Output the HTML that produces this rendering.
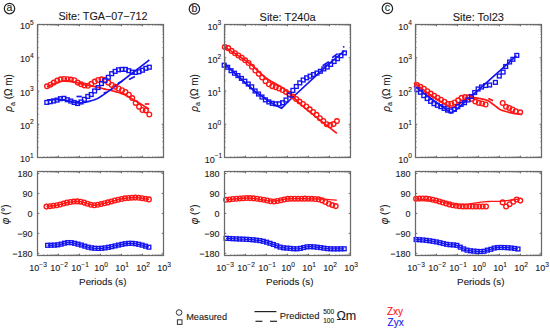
<!DOCTYPE html>
<html><head><meta charset="utf-8"><style>
html,body{margin:0;padding:0;background:#fff;}
svg{display:block;}
text{font-family:"Liberation Sans",sans-serif;}
</style></head><body>
<svg width="550" height="331" viewBox="0 0 550 331">
<rect width="550" height="331" fill="#fff"/>
<path d="M47.00,87.00 L47.77,86.63 L48.80,86.13 L50.02,85.52 L51.38,84.86 L52.81,84.18 L54.27,83.53 L55.68,82.96 L57.00,82.50 L58.24,82.13 L59.48,81.79 L60.71,81.49 L61.94,81.23 L63.18,81.03 L64.43,80.89 L65.70,80.81 L67.00,80.80 L68.38,80.90 L69.84,81.10 L71.36,81.39 L72.88,81.72 L74.34,82.08 L75.72,82.44 L76.95,82.75 L78.00,83.00 L78.78,83.18 L79.32,83.32 L79.68,83.44 L79.97,83.54 L80.26,83.65 L80.64,83.77 L81.19,83.91 L82.00,84.10 L83.08,84.33 L84.35,84.58 L85.76,84.86 L87.28,85.15 L88.86,85.46 L90.45,85.77 L92.01,86.09 L93.50,86.40 L94.97,86.73 L96.48,87.08 L98.01,87.44 L99.53,87.80 L101.02,88.16 L102.44,88.50 L103.78,88.82 L105.00,89.10 L106.06,89.33 L106.95,89.50 L107.73,89.64 L108.47,89.77 L109.21,89.91 L110.00,90.08 L110.92,90.31 L112.00,90.60 L113.27,90.96 L114.70,91.37 L116.22,91.82 L117.81,92.30 L119.43,92.81 L121.02,93.36 L122.56,93.92 L124.00,94.50 L125.31,95.09 L126.53,95.68 L127.68,96.29 L128.82,96.93 L129.98,97.61 L131.20,98.34 L132.53,99.13 L134.00,100.00 L135.73,101.02 L137.73,102.21 L139.88,103.51 L142.07,104.84 L144.19,106.13 L146.11,107.30 L147.72,108.28 L148.90,109.00" fill="none" stroke="#ff1414" stroke-width="1.7" stroke-linejoin="round"/>
<path d="M47.00,100.00 L47.77,99.95 L48.80,99.88 L50.02,99.78 L51.38,99.69 L52.81,99.60 L54.27,99.53 L55.68,99.49 L57.00,99.50 L58.25,99.54 L59.50,99.61 L60.75,99.71 L62.00,99.83 L63.25,99.96 L64.50,100.12 L65.75,100.30 L67.00,100.50 L68.27,100.74 L69.57,101.04 L70.88,101.38 L72.19,101.73 L73.47,102.07 L74.71,102.38 L75.89,102.63 L77.00,102.80 L78.01,102.90 L78.94,102.95 L79.80,102.95 L80.62,102.92 L81.43,102.85 L82.25,102.76 L83.10,102.64 L84.00,102.50 L84.96,102.34 L85.95,102.14 L86.96,101.92 L87.99,101.67 L89.01,101.40 L90.03,101.11 L91.03,100.81 L92.00,100.50 L92.90,100.21 L93.73,99.96 L94.51,99.70 L95.30,99.42 L96.12,99.09 L97.03,98.68 L98.04,98.16 L99.20,97.50 L100.49,96.72 L101.87,95.84 L103.33,94.87 L104.89,93.81 L106.53,92.66 L108.26,91.42 L110.08,90.10 L112.00,88.70 L114.05,87.18 L116.24,85.51 L118.55,83.74 L120.93,81.90 L123.36,80.01 L125.81,78.11 L128.23,76.23 L130.60,74.40 L133.06,72.51 L135.71,70.47 L138.43,68.37 L141.11,66.31 L143.65,64.35 L145.94,62.59 L147.86,61.11 L149.30,60.00" fill="none" stroke="#1414f0" stroke-width="1.7" stroke-linejoin="round"/>
<g fill="none" stroke="#ff1414" stroke-width="1.35"><circle cx="47.00" cy="86.30" r="2.35"/><circle cx="50.41" cy="84.69" r="2.35"/><circle cx="53.82" cy="82.61" r="2.35"/><circle cx="57.23" cy="80.64" r="2.35"/><circle cx="60.64" cy="79.37" r="2.35"/><circle cx="64.05" cy="78.98" r="2.35"/><circle cx="67.46" cy="79.25" r="2.35"/><circle cx="70.87" cy="79.57" r="2.35"/><circle cx="74.28" cy="80.29" r="2.35"/><circle cx="77.69" cy="82.61" r="2.35"/><circle cx="81.10" cy="84.30" r="2.35"/><circle cx="84.51" cy="85.42" r="2.35"/><circle cx="87.92" cy="85.75" r="2.35"/><circle cx="91.33" cy="83.83" r="2.35"/><circle cx="94.74" cy="81.57" r="2.35"/><circle cx="98.15" cy="79.96" r="2.35"/><circle cx="101.56" cy="79.35" r="2.35"/><circle cx="104.97" cy="79.77" r="2.35"/><circle cx="108.38" cy="82.64" r="2.35"/><circle cx="111.79" cy="84.94" r="2.35"/><circle cx="115.20" cy="86.71" r="2.35"/><circle cx="118.61" cy="88.46" r="2.35"/><circle cx="122.02" cy="90.15" r="2.35"/><circle cx="125.43" cy="91.92" r="2.35"/><circle cx="128.84" cy="94.65" r="2.35"/><circle cx="132.25" cy="98.07" r="2.35"/><circle cx="135.66" cy="102.90" r="2.35"/><circle cx="139.07" cy="106.67" r="2.35"/><circle cx="142.48" cy="110.02" r="2.35"/><circle cx="145.89" cy="110.43" r="2.35"/><circle cx="149.30" cy="114.50" r="2.35"/></g>
<g fill="none" stroke="#1414f0" stroke-width="1.35"><rect x="44.90" y="100.50" width="3.8" height="3.8"/><rect x="48.32" y="99.80" width="3.8" height="3.8"/><rect x="51.73" y="99.09" width="3.8" height="3.8"/><rect x="55.15" y="98.18" width="3.8" height="3.8"/><rect x="58.57" y="96.78" width="3.8" height="3.8"/><rect x="61.98" y="96.41" width="3.8" height="3.8"/><rect x="65.40" y="97.84" width="3.8" height="3.8"/><rect x="68.82" y="99.15" width="3.8" height="3.8"/><rect x="72.23" y="100.55" width="3.8" height="3.8"/><rect x="75.65" y="101.59" width="3.8" height="3.8"/><rect x="79.07" y="100.12" width="3.8" height="3.8"/><rect x="82.48" y="97.44" width="3.8" height="3.8"/><rect x="85.90" y="94.54" width="3.8" height="3.8"/><rect x="89.32" y="92.62" width="3.8" height="3.8"/><rect x="92.73" y="89.06" width="3.8" height="3.8"/><rect x="96.15" y="85.69" width="3.8" height="3.8"/><rect x="99.57" y="81.69" width="3.8" height="3.8"/><rect x="102.98" y="78.80" width="3.8" height="3.8"/><rect x="106.40" y="75.42" width="3.8" height="3.8"/><rect x="109.82" y="71.79" width="3.8" height="3.8"/><rect x="113.23" y="69.49" width="3.8" height="3.8"/><rect x="116.65" y="67.90" width="3.8" height="3.8"/><rect x="120.07" y="67.49" width="3.8" height="3.8"/><rect x="123.48" y="67.50" width="3.8" height="3.8"/><rect x="126.90" y="68.82" width="3.8" height="3.8"/><rect x="130.32" y="70.29" width="3.8" height="3.8"/><rect x="133.73" y="70.56" width="3.8" height="3.8"/><rect x="137.15" y="69.85" width="3.8" height="3.8"/><rect x="140.57" y="68.33" width="3.8" height="3.8"/><rect x="143.98" y="66.44" width="3.8" height="3.8"/><rect x="147.40" y="65.30" width="3.8" height="3.8"/></g>
<line x1="76.5" y1="96.5" x2="81.8" y2="96.5" stroke="#1414f0" stroke-width="1.7"/>
<line x1="129" y1="79.5" x2="134.9" y2="76.6" stroke="#1414f0" stroke-width="1.7"/>
<line x1="118.2" y1="83.2" x2="122.5" y2="81" stroke="#1414f0" stroke-width="1.7"/>
<line x1="103.7" y1="93.3" x2="106.6" y2="91.9" stroke="#1414f0" stroke-width="1.7"/>
<line x1="144.8" y1="104" x2="149.3" y2="104" stroke="#ff1414" stroke-width="1.7"/>
<path d="M46.50,206.60 L47.40,206.48 L48.61,206.34 L50.04,206.17 L51.64,205.97 L53.31,205.75 L55.00,205.51 L56.62,205.26 L58.10,205.00 L59.47,204.70 L60.82,204.36 L62.15,203.98 L63.46,203.60 L64.77,203.22 L66.07,202.87 L67.38,202.55 L68.70,202.30 L70.03,202.08 L71.35,201.88 L72.67,201.69 L74.00,201.54 L75.33,201.44 L76.65,201.39 L77.97,201.41 L79.30,201.50 L80.66,201.71 L82.08,202.04 L83.52,202.45 L84.94,202.91 L86.33,203.38 L87.64,203.82 L88.84,204.21 L89.90,204.50 L90.76,204.72 L91.43,204.90 L91.97,205.06 L92.45,205.18 L92.93,205.25 L93.47,205.28 L94.14,205.27 L95.00,205.20 L96.06,205.07 L97.27,204.87 L98.58,204.61 L99.96,204.32 L101.39,204.00 L102.83,203.66 L104.24,203.32 L105.60,203.00 L106.92,202.67 L108.23,202.33 L109.54,201.96 L110.85,201.59 L112.16,201.23 L113.47,200.86 L114.78,200.52 L116.10,200.20 L117.42,199.89 L118.74,199.59 L120.07,199.29 L121.39,199.00 L122.72,198.73 L124.05,198.49 L125.37,198.28 L126.70,198.10 L128.02,197.95 L129.33,197.83 L130.63,197.73 L131.94,197.66 L133.25,197.62 L134.58,197.61 L135.93,197.64 L137.30,197.70 L138.78,197.82 L140.40,198.02 L142.09,198.26 L143.76,198.52 L145.36,198.79 L146.79,199.05 L148.00,199.25 L148.90,199.40" fill="none" stroke="#ff1414" stroke-width="1.3" stroke-linejoin="round"/>
<path d="M47.60,245.30 L48.41,245.27 L49.48,245.25 L50.76,245.23 L52.19,245.19 L53.69,245.14 L55.22,245.06 L56.71,244.95 L58.10,244.80 L59.42,244.57 L60.74,244.25 L62.07,243.88 L63.39,243.49 L64.72,243.13 L66.05,242.81 L67.37,242.59 L68.70,242.50 L70.02,242.54 L71.35,242.67 L72.67,242.89 L73.99,243.16 L75.32,243.48 L76.64,243.82 L77.97,244.17 L79.30,244.50 L80.64,244.85 L81.98,245.25 L83.34,245.68 L84.69,246.12 L86.03,246.56 L87.37,246.96 L88.70,247.32 L90.00,247.60 L91.28,247.83 L92.55,248.01 L93.80,248.17 L95.04,248.28 L96.28,248.36 L97.52,248.41 L98.75,248.42 L100.00,248.40 L101.20,248.34 L102.34,248.25 L103.46,248.13 L104.58,247.97 L105.76,247.78 L107.03,247.55 L108.43,247.29 L110.00,247.00 L111.81,246.64 L113.85,246.18 L116.04,245.67 L118.31,245.13 L120.59,244.61 L122.80,244.14 L124.86,243.76 L126.70,243.50 L128.31,243.35 L129.76,243.28 L131.08,243.28 L132.32,243.33 L133.52,243.44 L134.72,243.59 L135.97,243.78 L137.30,244.00 L138.78,244.29 L140.40,244.69 L142.09,245.14 L143.76,245.63 L145.36,246.12 L146.79,246.56 L148.00,246.93 L148.90,247.20" fill="none" stroke="#1414f0" stroke-width="1.3" stroke-linejoin="round"/>
<g fill="none" stroke="#ff1414" stroke-width="1.35"><circle cx="46.50" cy="206.60" r="2.35"/><circle cx="49.91" cy="206.18" r="2.35"/><circle cx="53.33" cy="205.75" r="2.35"/><circle cx="56.74" cy="205.24" r="2.35"/><circle cx="60.15" cy="204.53" r="2.35"/><circle cx="63.57" cy="203.57" r="2.35"/><circle cx="66.98" cy="202.65" r="2.35"/><circle cx="70.39" cy="202.02" r="2.35"/><circle cx="73.81" cy="201.56" r="2.35"/><circle cx="77.22" cy="201.39" r="2.35"/><circle cx="80.63" cy="201.70" r="2.35"/><circle cx="84.05" cy="202.61" r="2.35"/><circle cx="87.46" cy="203.76" r="2.35"/><circle cx="90.87" cy="204.75" r="2.35"/><circle cx="94.29" cy="205.26" r="2.35"/><circle cx="97.70" cy="204.79" r="2.35"/><circle cx="101.11" cy="204.06" r="2.35"/><circle cx="104.53" cy="203.26" r="2.35"/><circle cx="107.94" cy="202.40" r="2.35"/><circle cx="111.35" cy="201.45" r="2.35"/><circle cx="114.77" cy="200.52" r="2.35"/><circle cx="118.18" cy="199.72" r="2.35"/><circle cx="121.59" cy="198.96" r="2.35"/><circle cx="125.01" cy="198.33" r="2.35"/><circle cx="128.42" cy="197.91" r="2.35"/><circle cx="131.83" cy="197.67" r="2.35"/><circle cx="135.25" cy="197.62" r="2.35"/><circle cx="138.66" cy="197.81" r="2.35"/><circle cx="142.07" cy="198.26" r="2.35"/><circle cx="145.49" cy="198.82" r="2.35"/><circle cx="148.90" cy="199.40" r="2.35"/></g>
<g fill="none" stroke="#1414f0" stroke-width="1.35"><rect x="45.70" y="243.40" width="3.8" height="3.8"/><rect x="49.08" y="243.32" width="3.8" height="3.8"/><rect x="52.45" y="243.21" width="3.8" height="3.8"/><rect x="55.83" y="242.94" width="3.8" height="3.8"/><rect x="59.21" y="242.25" width="3.8" height="3.8"/><rect x="62.58" y="241.29" width="3.8" height="3.8"/><rect x="65.96" y="240.65" width="3.8" height="3.8"/><rect x="69.34" y="240.76" width="3.8" height="3.8"/><rect x="72.71" y="241.41" width="3.8" height="3.8"/><rect x="76.09" y="242.27" width="3.8" height="3.8"/><rect x="79.47" y="243.16" width="3.8" height="3.8"/><rect x="82.84" y="244.24" width="3.8" height="3.8"/><rect x="86.22" y="245.27" width="3.8" height="3.8"/><rect x="89.60" y="245.96" width="3.8" height="3.8"/><rect x="92.97" y="246.37" width="3.8" height="3.8"/><rect x="96.35" y="246.52" width="3.8" height="3.8"/><rect x="99.73" y="246.41" width="3.8" height="3.8"/><rect x="103.10" y="246.00" width="3.8" height="3.8"/><rect x="106.48" y="245.40" width="3.8" height="3.8"/><rect x="109.86" y="244.75" width="3.8" height="3.8"/><rect x="113.23" y="243.98" width="3.8" height="3.8"/><rect x="116.61" y="243.19" width="3.8" height="3.8"/><rect x="119.99" y="242.43" width="3.8" height="3.8"/><rect x="123.36" y="241.80" width="3.8" height="3.8"/><rect x="126.74" y="241.43" width="3.8" height="3.8"/><rect x="130.12" y="241.41" width="3.8" height="3.8"/><rect x="133.49" y="241.79" width="3.8" height="3.8"/><rect x="136.87" y="242.39" width="3.8" height="3.8"/><rect x="140.25" y="243.26" width="3.8" height="3.8"/><rect x="143.62" y="244.27" width="3.8" height="3.8"/><rect x="147.00" y="245.30" width="3.8" height="3.8"/></g>
<path d="M224.80,47.00 L226.72,48.24 L229.32,49.90 L232.42,51.87 L235.84,54.06 L239.39,56.37 L242.89,58.70 L246.15,60.94 L249.00,63.00 L251.46,64.95 L253.71,66.90 L255.81,68.85 L257.82,70.77 L259.79,72.67 L261.78,74.51 L263.83,76.29 L266.00,78.00 L268.27,79.57 L270.59,80.98 L272.93,82.30 L275.31,83.59 L277.71,84.90 L280.13,86.30 L282.56,87.85 L285.00,89.60 L287.37,91.53 L289.65,93.56 L291.90,95.70 L294.19,97.94 L296.58,100.30 L299.14,102.76 L301.92,105.32 L305.00,108.00 L308.64,111.01 L312.89,114.43 L317.49,118.09 L322.20,121.80 L326.75,125.36 L330.89,128.59 L334.36,131.30 L336.90,133.30" fill="none" stroke="#ff1414" stroke-width="1.7" stroke-linejoin="round"/>
<path d="M224.50,64.00 L240.00,78.00 L255.00,91.50 L270.00,102.00 L276.00,105.50 L281.50,108.30 L289.80,100.00 L325.00,67.30 L344.40,50.90" fill="none" stroke="#1414f0" stroke-width="1.7" stroke-linejoin="round"/>
<g fill="none" stroke="#ff1414" stroke-width="1.35"><circle cx="224.80" cy="47.10" r="2.35"/><circle cx="228.20" cy="48.14" r="2.35"/><circle cx="231.59" cy="50.89" r="2.35"/><circle cx="234.99" cy="53.24" r="2.35"/><circle cx="238.39" cy="55.49" r="2.35"/><circle cx="241.78" cy="57.75" r="2.35"/><circle cx="245.18" cy="60.33" r="2.35"/><circle cx="248.58" cy="62.99" r="2.35"/><circle cx="251.98" cy="66.72" r="2.35"/><circle cx="255.37" cy="70.50" r="2.35"/><circle cx="258.77" cy="73.86" r="2.35"/><circle cx="262.17" cy="77.50" r="2.35"/><circle cx="265.56" cy="81.14" r="2.35"/><circle cx="268.96" cy="84.21" r="2.35"/><circle cx="272.36" cy="86.13" r="2.35"/><circle cx="275.75" cy="87.29" r="2.35"/><circle cx="279.15" cy="88.49" r="2.35"/><circle cx="282.55" cy="90.04" r="2.35"/><circle cx="285.95" cy="91.93" r="2.35"/><circle cx="289.34" cy="94.06" r="2.35"/><circle cx="292.74" cy="96.48" r="2.35"/><circle cx="296.14" cy="99.03" r="2.35"/><circle cx="299.53" cy="101.58" r="2.35"/><circle cx="302.93" cy="103.94" r="2.35"/><circle cx="306.33" cy="106.48" r="2.35"/><circle cx="309.72" cy="109.30" r="2.35"/><circle cx="313.12" cy="112.00" r="2.35"/><circle cx="316.52" cy="114.89" r="2.35"/><circle cx="319.92" cy="118.22" r="2.35"/><circle cx="323.31" cy="121.00" r="2.35"/><circle cx="326.71" cy="124.18" r="2.35"/><circle cx="330.11" cy="125.14" r="2.35"/><circle cx="333.50" cy="124.11" r="2.35"/><circle cx="336.90" cy="121.10" r="2.35"/></g>
<g fill="none" stroke="#1414f0" stroke-width="1.35"><rect x="222.30" y="63.30" width="3.8" height="3.8"/><rect x="225.73" y="65.38" width="3.8" height="3.8"/><rect x="229.17" y="68.79" width="3.8" height="3.8"/><rect x="232.60" y="71.35" width="3.8" height="3.8"/><rect x="236.04" y="73.71" width="3.8" height="3.8"/><rect x="239.47" y="76.51" width="3.8" height="3.8"/><rect x="242.91" y="79.30" width="3.8" height="3.8"/><rect x="246.34" y="82.12" width="3.8" height="3.8"/><rect x="249.77" y="84.90" width="3.8" height="3.8"/><rect x="253.21" y="89.11" width="3.8" height="3.8"/><rect x="256.64" y="92.13" width="3.8" height="3.8"/><rect x="260.08" y="95.11" width="3.8" height="3.8"/><rect x="263.51" y="97.95" width="3.8" height="3.8"/><rect x="266.95" y="100.03" width="3.8" height="3.8"/><rect x="270.38" y="101.44" width="3.8" height="3.8"/><rect x="273.81" y="102.04" width="3.8" height="3.8"/><rect x="277.25" y="101.98" width="3.8" height="3.8"/><rect x="280.68" y="100.83" width="3.8" height="3.8"/><rect x="284.12" y="98.09" width="3.8" height="3.8"/><rect x="287.55" y="93.09" width="3.8" height="3.8"/><rect x="290.99" y="88.47" width="3.8" height="3.8"/><rect x="294.42" y="84.56" width="3.8" height="3.8"/><rect x="297.85" y="80.96" width="3.8" height="3.8"/><rect x="301.29" y="78.09" width="3.8" height="3.8"/><rect x="304.72" y="75.90" width="3.8" height="3.8"/><rect x="308.16" y="74.26" width="3.8" height="3.8"/><rect x="311.59" y="72.64" width="3.8" height="3.8"/><rect x="315.03" y="71.16" width="3.8" height="3.8"/><rect x="318.46" y="69.38" width="3.8" height="3.8"/><rect x="321.89" y="67.02" width="3.8" height="3.8"/><rect x="325.33" y="65.15" width="3.8" height="3.8"/><rect x="328.76" y="62.53" width="3.8" height="3.8"/><rect x="332.20" y="59.63" width="3.8" height="3.8"/><rect x="335.63" y="56.76" width="3.8" height="3.8"/><rect x="339.07" y="53.84" width="3.8" height="3.8"/><rect x="342.50" y="51.00" width="3.8" height="3.8"/></g>
<line x1="322.7" y1="65.8" x2="328.8" y2="61.7" stroke="#1414f0" stroke-width="1.7"/>
<line x1="332.2" y1="57.7" x2="337.6" y2="53.6" stroke="#1414f0" stroke-width="1.7"/>
<circle cx="343.7" cy="46.8" r="0.9" fill="#1414f0"/>
<path d="M226.10,199.80 L227.90,199.64 L230.29,199.39 L233.14,199.08 L236.30,198.77 L239.65,198.48 L243.04,198.24 L246.33,198.10 L249.40,198.10 L252.35,198.28 L255.38,198.62 L258.43,199.07 L261.46,199.58 L264.44,200.08 L267.32,200.53 L270.05,200.85 L272.60,201.00 L274.84,200.95 L276.75,200.75 L278.46,200.44 L280.11,200.07 L281.80,199.67 L283.68,199.30 L285.87,199.00 L288.50,198.80 L291.68,198.70 L295.35,198.66 L299.35,198.66 L303.52,198.69 L307.71,198.75 L311.75,198.82 L315.50,198.91 L318.80,199.00 L321.76,199.11 L324.59,199.26 L327.24,199.43 L329.69,199.61 L331.91,199.79 L333.85,199.96 L335.50,200.10 L336.80,200.20" fill="none" stroke="#ff1414" stroke-width="1.3" stroke-linejoin="round"/>
<path d="M226.10,238.30 L226.90,238.35 L227.96,238.41 L229.21,238.48 L230.61,238.56 L232.11,238.65 L233.65,238.74 L235.20,238.82 L236.70,238.90 L238.19,238.97 L239.73,239.03 L241.31,239.09 L242.92,239.14 L244.55,239.21 L246.18,239.29 L247.80,239.38 L249.40,239.50 L250.99,239.63 L252.60,239.77 L254.22,239.92 L255.83,240.09 L257.43,240.27 L258.99,240.48 L260.52,240.72 L262.00,241.00 L263.44,241.32 L264.84,241.68 L266.21,242.08 L267.56,242.49 L268.87,242.93 L270.14,243.36 L271.39,243.79 L272.60,244.20 L273.77,244.62 L274.90,245.06 L275.99,245.51 L277.05,245.95 L278.09,246.38 L279.10,246.77 L280.10,247.11 L281.10,247.40 L282.07,247.62 L282.99,247.77 L283.88,247.88 L284.76,247.96 L285.64,248.02 L286.55,248.07 L287.50,248.13 L288.50,248.20 L289.55,248.30 L290.64,248.43 L291.76,248.56 L292.90,248.68 L294.07,248.78 L295.26,248.84 L296.47,248.86 L297.70,248.80 L298.96,248.65 L300.25,248.40 L301.58,248.09 L302.92,247.74 L304.27,247.40 L305.62,247.09 L306.97,246.85 L308.30,246.70 L309.62,246.65 L310.93,246.66 L312.24,246.73 L313.55,246.83 L314.86,246.96 L316.17,247.11 L317.48,247.26 L318.80,247.40 L320.09,247.55 L321.34,247.73 L322.58,247.94 L323.83,248.14 L325.11,248.35 L326.45,248.53 L327.87,248.69 L329.40,248.80 L331.15,248.87 L333.15,248.90 L335.29,248.90 L337.46,248.89 L339.55,248.86 L341.44,248.83 L343.03,248.81 L344.20,248.80" fill="none" stroke="#1414f0" stroke-width="1.3" stroke-linejoin="round"/>
<g fill="none" stroke="#ff1414" stroke-width="1.35"><circle cx="226.10" cy="199.80" r="2.35"/><circle cx="229.53" cy="199.41" r="2.35"/><circle cx="232.95" cy="199.04" r="2.35"/><circle cx="236.38" cy="198.73" r="2.35"/><circle cx="239.80" cy="198.47" r="2.35"/><circle cx="243.22" cy="198.23" r="2.35"/><circle cx="246.65" cy="198.09" r="2.35"/><circle cx="250.07" cy="198.12" r="2.35"/><circle cx="253.50" cy="198.35" r="2.35"/><circle cx="256.93" cy="198.71" r="2.35"/><circle cx="260.35" cy="199.16" r="2.35"/><circle cx="263.77" cy="199.72" r="2.35"/><circle cx="267.20" cy="200.52" r="2.35"/><circle cx="270.62" cy="201.28" r="2.35"/><circle cx="274.05" cy="201.48" r="2.35"/><circle cx="277.48" cy="200.98" r="2.35"/><circle cx="280.90" cy="200.24" r="2.35"/><circle cx="284.32" cy="199.52" r="2.35"/><circle cx="287.75" cy="198.88" r="2.35"/><circle cx="291.18" cy="198.67" r="2.35"/><circle cx="294.60" cy="198.68" r="2.35"/><circle cx="298.02" cy="198.70" r="2.35"/><circle cx="301.45" cy="198.66" r="2.35"/><circle cx="304.88" cy="198.64" r="2.35"/><circle cx="308.30" cy="198.70" r="2.35"/><circle cx="311.73" cy="198.81" r="2.35"/><circle cx="315.15" cy="198.97" r="2.35"/><circle cx="318.57" cy="199.36" r="2.35"/><circle cx="322.00" cy="200.39" r="2.35"/><circle cx="325.42" cy="202.00" r="2.35"/><circle cx="328.85" cy="203.74" r="2.35"/><circle cx="332.27" cy="205.12" r="2.35"/><circle cx="335.70" cy="206.10" r="2.35"/></g>
<g fill="none" stroke="#1414f0" stroke-width="1.35"><rect x="224.20" y="236.40" width="3.8" height="3.8"/><rect x="227.57" y="236.60" width="3.8" height="3.8"/><rect x="230.95" y="236.79" width="3.8" height="3.8"/><rect x="234.32" y="236.98" width="3.8" height="3.8"/><rect x="237.70" y="237.12" width="3.8" height="3.8"/><rect x="241.07" y="237.25" width="3.8" height="3.8"/><rect x="244.45" y="237.40" width="3.8" height="3.8"/><rect x="247.82" y="237.63" width="3.8" height="3.8"/><rect x="251.19" y="237.92" width="3.8" height="3.8"/><rect x="254.57" y="238.26" width="3.8" height="3.8"/><rect x="257.94" y="238.71" width="3.8" height="3.8"/><rect x="261.32" y="239.37" width="3.8" height="3.8"/><rect x="264.69" y="240.29" width="3.8" height="3.8"/><rect x="268.07" y="241.40" width="3.8" height="3.8"/><rect x="271.44" y="242.56" width="3.8" height="3.8"/><rect x="274.81" y="243.91" width="3.8" height="3.8"/><rect x="278.19" y="245.21" width="3.8" height="3.8"/><rect x="281.56" y="245.94" width="3.8" height="3.8"/><rect x="284.94" y="246.19" width="3.8" height="3.8"/><rect x="288.31" y="246.48" width="3.8" height="3.8"/><rect x="291.69" y="246.84" width="3.8" height="3.8"/><rect x="295.06" y="246.94" width="3.8" height="3.8"/><rect x="298.43" y="246.48" width="3.8" height="3.8"/><rect x="301.81" y="245.64" width="3.8" height="3.8"/><rect x="305.18" y="244.93" width="3.8" height="3.8"/><rect x="308.56" y="244.75" width="3.8" height="3.8"/><rect x="311.93" y="244.96" width="3.8" height="3.8"/><rect x="315.31" y="245.33" width="3.8" height="3.8"/><rect x="318.68" y="245.72" width="3.8" height="3.8"/><rect x="322.05" y="246.26" width="3.8" height="3.8"/><rect x="325.43" y="246.73" width="3.8" height="3.8"/><rect x="328.80" y="246.95" width="3.8" height="3.8"/><rect x="332.18" y="247.00" width="3.8" height="3.8"/><rect x="335.55" y="246.99" width="3.8" height="3.8"/><rect x="338.93" y="246.94" width="3.8" height="3.8"/><rect x="342.30" y="246.90" width="3.8" height="3.8"/></g>
<path d="M414.00,82.80 L415.42,83.85 L417.33,85.28 L419.61,86.99 L422.12,88.86 L424.75,90.81 L427.36,92.71 L429.82,94.48 L432.00,96.00 L434.00,97.33 L435.97,98.61 L437.89,99.81 L439.75,100.94 L441.51,101.99 L443.16,102.96 L444.66,103.83 L446.00,104.60 L447.11,105.29 L447.97,105.92 L448.66,106.47 L449.25,106.93 L449.81,107.28 L450.41,107.50 L451.11,107.58 L452.00,107.50 L453.07,107.20 L454.27,106.68 L455.54,105.99 L456.88,105.19 L458.22,104.33 L459.55,103.47 L460.82,102.68 L462.00,102.00 L463.09,101.39 L464.11,100.77 L465.08,100.15 L466.03,99.57 L466.98,99.03 L467.94,98.56 L468.94,98.18 L470.00,97.90 L471.13,97.74 L472.30,97.68 L473.51,97.71 L474.74,97.81 L475.97,97.96 L477.19,98.13 L478.37,98.32 L479.50,98.50 L480.59,98.67 L481.65,98.86 L482.70,99.06 L483.72,99.29 L484.72,99.56 L485.70,99.86 L486.66,100.20 L487.60,100.60 L488.52,101.07 L489.42,101.61 L490.30,102.20 L491.16,102.82 L492.00,103.47 L492.81,104.11 L493.62,104.72 L494.40,105.30 L495.16,105.86 L495.90,106.42 L496.62,106.98 L497.32,107.53 L498.00,108.06 L498.68,108.55 L499.34,109.00 L500.00,109.40 L500.62,109.73 L501.19,110.00 L501.72,110.23 L502.26,110.42 L502.81,110.60 L503.42,110.78 L504.11,110.97 L504.90,111.20 L505.81,111.46 L506.81,111.75 L507.90,112.05 L509.03,112.35 L510.19,112.65 L511.36,112.93 L512.50,113.18 L513.60,113.40 L514.72,113.59 L515.92,113.76 L517.14,113.91 L518.34,114.04 L519.48,114.15 L520.50,114.25 L521.35,114.33 L522.00,114.40" fill="none" stroke="#ff1414" stroke-width="1.7" stroke-linejoin="round"/>
<path d="M414.00,85.80 L433.00,100.00 L451.00,113.00 L455.00,110.80 L516.50,55.70" fill="none" stroke="#1414f0" stroke-width="1.7" stroke-linejoin="round"/>
<g fill="none" stroke="#ff1414" stroke-width="1.35"><circle cx="417.00" cy="85.10" r="2.35"/><circle cx="420.43" cy="86.84" r="2.35"/><circle cx="423.86" cy="88.69" r="2.35"/><circle cx="427.29" cy="91.17" r="2.35"/><circle cx="430.72" cy="93.63" r="2.35"/><circle cx="434.15" cy="95.68" r="2.35"/><circle cx="437.58" cy="97.78" r="2.35"/><circle cx="441.01" cy="99.74" r="2.35"/><circle cx="444.44" cy="101.65" r="2.35"/><circle cx="447.87" cy="103.96" r="2.35"/><circle cx="451.30" cy="103.71" r="2.35"/><circle cx="454.73" cy="102.40" r="2.35"/><circle cx="458.16" cy="100.36" r="2.35"/><circle cx="461.59" cy="97.88" r="2.35"/><circle cx="465.02" cy="97.06" r="2.35"/><circle cx="468.45" cy="97.31" r="2.35"/><circle cx="471.88" cy="98.88" r="2.35"/><circle cx="475.31" cy="101.55" r="2.35"/><circle cx="478.74" cy="102.89" r="2.35"/><circle cx="482.17" cy="103.47" r="2.35"/><circle cx="485.60" cy="104.50" r="2.35"/></g>
<g fill="none" stroke="#ff1414" stroke-width="1.35"><circle cx="502.70" cy="103.00" r="2.35"/><circle cx="506.00" cy="106.80" r="2.35"/><circle cx="509.30" cy="107.90" r="2.35"/><circle cx="512.50" cy="109.50" r="2.35"/><circle cx="515.80" cy="111.20" r="2.35"/><circle cx="520.20" cy="112.30" r="2.35"/></g>
<g fill="none" stroke="#1414f0" stroke-width="1.35"><rect x="415.10" y="87.70" width="3.8" height="3.8"/><rect x="418.49" y="90.35" width="3.8" height="3.8"/><rect x="421.89" y="93.72" width="3.8" height="3.8"/><rect x="425.28" y="96.62" width="3.8" height="3.8"/><rect x="428.68" y="99.42" width="3.8" height="3.8"/><rect x="432.07" y="101.78" width="3.8" height="3.8"/><rect x="435.47" y="103.41" width="3.8" height="3.8"/><rect x="438.86" y="104.79" width="3.8" height="3.8"/><rect x="442.26" y="106.51" width="3.8" height="3.8"/><rect x="445.65" y="108.24" width="3.8" height="3.8"/><rect x="449.05" y="109.10" width="3.8" height="3.8"/><rect x="452.44" y="107.53" width="3.8" height="3.8"/><rect x="455.84" y="104.77" width="3.8" height="3.8"/><rect x="459.23" y="102.50" width="3.8" height="3.8"/><rect x="462.63" y="100.80" width="3.8" height="3.8"/><rect x="466.02" y="98.08" width="3.8" height="3.8"/><rect x="469.42" y="94.63" width="3.8" height="3.8"/><rect x="472.81" y="90.64" width="3.8" height="3.8"/><rect x="476.21" y="87.10" width="3.8" height="3.8"/><rect x="479.60" y="85.10" width="3.8" height="3.8"/></g>
<g fill="none" stroke="#1414f0" stroke-width="1.35"><rect x="483.70" y="83.60" width="3.8" height="3.8"/><rect x="487.70" y="83.10" width="3.8" height="3.8"/><rect x="493.50" y="80.50" width="3.8" height="3.8"/><rect x="497.40" y="74.10" width="3.8" height="3.8"/><rect x="501.20" y="70.20" width="3.8" height="3.8"/><rect x="503.80" y="64.60" width="3.8" height="3.8"/><rect x="507.70" y="60.10" width="3.8" height="3.8"/><rect x="511.00" y="57.40" width="3.8" height="3.8"/><rect x="514.90" y="53.50" width="3.8" height="3.8"/></g>
<line x1="488.3" y1="98.5" x2="493" y2="100.6" stroke="#ff1414" stroke-width="1.7"/>
<path d="M416.10,198.70 L417.74,198.86 L419.91,199.06 L422.50,199.29 L425.38,199.56 L428.43,199.85 L431.51,200.18 L434.51,200.53 L437.30,200.90 L439.91,201.35 L442.49,201.92 L445.04,202.54 L447.60,203.18 L450.19,203.77 L452.84,204.27 L455.57,204.63 L458.40,204.80 L461.40,204.74 L464.59,204.48 L467.87,204.07 L471.21,203.58 L474.51,203.05 L477.72,202.54 L480.78,202.11 L483.60,201.80 L486.18,201.62 L488.57,201.52 L490.82,201.47 L492.97,201.46 L495.06,201.44 L497.13,201.41 L499.23,201.34 L501.40,201.20 L503.74,200.98 L506.25,200.69 L508.82,200.36 L511.36,200.01 L513.76,199.67 L515.92,199.35 L517.74,199.09 L519.10,198.90" fill="none" stroke="#ff1414" stroke-width="1.3" stroke-linejoin="round"/>
<path d="M416.10,239.50 L416.92,239.56 L418.00,239.64 L419.30,239.74 L420.74,239.84 L422.26,239.96 L423.80,240.10 L425.30,240.24 L426.70,240.40 L428.03,240.57 L429.35,240.75 L430.68,240.95 L432.01,241.16 L433.33,241.38 L434.66,241.61 L435.98,241.85 L437.30,242.10 L438.63,242.38 L439.98,242.69 L441.33,243.02 L442.68,243.36 L444.01,243.69 L445.32,244.00 L446.58,244.28 L447.80,244.50 L448.99,244.66 L450.18,244.77 L451.34,244.83 L452.47,244.88 L453.54,244.92 L454.55,244.98 L455.48,245.07 L456.30,245.20 L457.00,245.38 L457.58,245.59 L458.07,245.82 L458.49,246.07 L458.88,246.33 L459.26,246.60 L459.66,246.85 L460.10,247.10 L460.58,247.34 L461.05,247.59 L461.53,247.84 L462.00,248.09 L462.48,248.33 L462.95,248.57 L463.43,248.79 L463.90,249.00 L464.38,249.20 L464.85,249.38 L465.32,249.56 L465.80,249.73 L466.27,249.89 L466.75,250.04 L467.22,250.18 L467.70,250.30 L468.15,250.41 L468.56,250.50 L468.95,250.58 L469.36,250.64 L469.79,250.71 L470.28,250.77 L470.84,250.83 L471.50,250.90 L472.30,250.98 L473.24,251.06 L474.27,251.15 L475.35,251.24 L476.43,251.32 L477.46,251.39 L478.40,251.45 L479.20,251.50 L479.86,251.54 L480.42,251.57 L480.91,251.60 L481.34,251.61 L481.75,251.61 L482.14,251.60 L482.55,251.56 L483.00,251.50 L483.48,251.40 L483.96,251.27 L484.45,251.12 L484.94,250.94 L485.42,250.77 L485.89,250.59 L486.35,250.43 L486.80,250.30 L487.21,250.20 L487.58,250.12 L487.93,250.05 L488.28,249.99 L488.64,249.93 L489.04,249.85 L489.48,249.74 L490.00,249.60 L490.58,249.41 L491.20,249.17 L491.87,248.90 L492.58,248.62 L493.31,248.34 L494.08,248.08 L494.88,247.86 L495.70,247.70 L496.56,247.59 L497.46,247.51 L498.41,247.47 L499.37,247.45 L500.36,247.45 L501.35,247.46 L502.33,247.48 L503.30,247.50 L504.26,247.53 L505.23,247.56 L506.21,247.61 L507.19,247.68 L508.16,247.75 L509.12,247.82 L510.07,247.91 L511.00,248.00 L511.96,248.11 L512.96,248.24 L513.98,248.38 L514.98,248.53 L515.92,248.68 L516.76,248.81 L517.46,248.92 L518.00,249.00" fill="none" stroke="#1414f0" stroke-width="1.3" stroke-linejoin="round"/>
<g fill="none" stroke="#ff1414" stroke-width="1.35"><circle cx="416.10" cy="198.70" r="2.35"/><circle cx="419.43" cy="198.60" r="2.35"/><circle cx="422.76" cy="198.54" r="2.35"/><circle cx="426.09" cy="198.65" r="2.35"/><circle cx="429.41" cy="199.09" r="2.35"/><circle cx="432.74" cy="199.77" r="2.35"/><circle cx="436.07" cy="200.59" r="2.35"/><circle cx="439.40" cy="201.48" r="2.35"/><circle cx="442.73" cy="202.51" r="2.35"/><circle cx="446.06" cy="203.53" r="2.35"/><circle cx="449.39" cy="204.39" r="2.35"/><circle cx="452.71" cy="205.17" r="2.35"/><circle cx="456.04" cy="205.80" r="2.35"/><circle cx="459.37" cy="206.19" r="2.35"/><circle cx="462.70" cy="206.38" r="2.35"/><circle cx="466.03" cy="206.45" r="2.35"/><circle cx="469.36" cy="206.48" r="2.35"/><circle cx="472.69" cy="206.51" r="2.35"/><circle cx="476.01" cy="206.53" r="2.35"/><circle cx="479.34" cy="206.53" r="2.35"/><circle cx="482.67" cy="206.51" r="2.35"/><circle cx="486.00" cy="206.50" r="2.35"/></g>
<g fill="none" stroke="#ff1414" stroke-width="1.35"><circle cx="502.60" cy="202.40" r="2.35"/><circle cx="506.10" cy="206.50" r="2.35"/><circle cx="509.60" cy="204.20" r="2.35"/><circle cx="513.20" cy="201.80" r="2.35"/><circle cx="516.70" cy="199.50" r="2.35"/><circle cx="520.30" cy="200.60" r="2.35"/></g>
<g fill="none" stroke="#1414f0" stroke-width="1.35"><rect x="414.20" y="237.60" width="3.8" height="3.8"/><rect x="417.60" y="237.85" width="3.8" height="3.8"/><rect x="420.99" y="238.12" width="3.8" height="3.8"/><rect x="424.39" y="238.45" width="3.8" height="3.8"/><rect x="427.79" y="238.90" width="3.8" height="3.8"/><rect x="431.18" y="239.43" width="3.8" height="3.8"/><rect x="434.58" y="240.04" width="3.8" height="3.8"/><rect x="437.98" y="240.77" width="3.8" height="3.8"/><rect x="441.37" y="241.61" width="3.8" height="3.8"/><rect x="444.77" y="242.39" width="3.8" height="3.8"/><rect x="448.17" y="242.86" width="3.8" height="3.8"/><rect x="451.56" y="243.02" width="3.8" height="3.8"/><rect x="454.96" y="243.44" width="3.8" height="3.8"/><rect x="458.36" y="245.28" width="3.8" height="3.8"/><rect x="461.75" y="246.99" width="3.8" height="3.8"/><rect x="465.15" y="248.23" width="3.8" height="3.8"/><rect x="468.55" y="248.89" width="3.8" height="3.8"/><rect x="471.94" y="249.22" width="3.8" height="3.8"/><rect x="475.34" y="249.48" width="3.8" height="3.8"/><rect x="478.74" y="249.68" width="3.8" height="3.8"/><rect x="482.13" y="249.35" width="3.8" height="3.8"/><rect x="485.53" y="248.25" width="3.8" height="3.8"/><rect x="488.93" y="247.42" width="3.8" height="3.8"/><rect x="492.32" y="246.14" width="3.8" height="3.8"/><rect x="495.72" y="245.61" width="3.8" height="3.8"/><rect x="499.12" y="245.56" width="3.8" height="3.8"/><rect x="502.51" y="245.63" width="3.8" height="3.8"/><rect x="505.91" y="245.82" width="3.8" height="3.8"/><rect x="509.31" y="246.12" width="3.8" height="3.8"/><rect x="512.70" y="246.57" width="3.8" height="3.8"/><rect x="516.10" y="247.10" width="3.8" height="3.8"/></g>
<path d="M37.50,157.5v-1.8M37.50,24.5v1.8M43.82,157.5v-1M43.82,24.5v1M47.52,157.5v-1M47.52,24.5v1M50.14,157.5v-1M50.14,24.5v1M52.18,157.5v-1M52.18,24.5v1M53.84,157.5v-1M53.84,24.5v1M55.25,157.5v-1M55.25,24.5v1M56.46,157.5v-1M56.46,24.5v1M57.54,157.5v-1M57.54,24.5v1M58.50,157.5v-1.8M58.50,24.5v1.8M64.82,157.5v-1M64.82,24.5v1M68.52,157.5v-1M68.52,24.5v1M71.14,157.5v-1M71.14,24.5v1M73.18,157.5v-1M73.18,24.5v1M74.84,157.5v-1M74.84,24.5v1M76.25,157.5v-1M76.25,24.5v1M77.46,157.5v-1M77.46,24.5v1M78.54,157.5v-1M78.54,24.5v1M79.50,157.5v-1.8M79.50,24.5v1.8M85.82,157.5v-1M85.82,24.5v1M89.52,157.5v-1M89.52,24.5v1M92.14,157.5v-1M92.14,24.5v1M94.18,157.5v-1M94.18,24.5v1M95.84,157.5v-1M95.84,24.5v1M97.25,157.5v-1M97.25,24.5v1M98.46,157.5v-1M98.46,24.5v1M99.54,157.5v-1M99.54,24.5v1M100.50,157.5v-1.8M100.50,24.5v1.8M106.82,157.5v-1M106.82,24.5v1M110.52,157.5v-1M110.52,24.5v1M113.14,157.5v-1M113.14,24.5v1M115.18,157.5v-1M115.18,24.5v1M116.84,157.5v-1M116.84,24.5v1M118.25,157.5v-1M118.25,24.5v1M119.46,157.5v-1M119.46,24.5v1M120.54,157.5v-1M120.54,24.5v1M121.50,157.5v-1.8M121.50,24.5v1.8M127.82,157.5v-1M127.82,24.5v1M131.52,157.5v-1M131.52,24.5v1M134.14,157.5v-1M134.14,24.5v1M136.18,157.5v-1M136.18,24.5v1M137.84,157.5v-1M137.84,24.5v1M139.25,157.5v-1M139.25,24.5v1M140.46,157.5v-1M140.46,24.5v1M141.54,157.5v-1M141.54,24.5v1M142.50,157.5v-1.8M142.50,24.5v1.8M148.82,157.5v-1M148.82,24.5v1M152.52,157.5v-1M152.52,24.5v1M155.14,157.5v-1M155.14,24.5v1M157.18,157.5v-1M157.18,24.5v1M158.84,157.5v-1M158.84,24.5v1M160.25,157.5v-1M160.25,24.5v1M161.46,157.5v-1M161.46,24.5v1M162.54,157.5v-1M162.54,24.5v1M163.50,157.5v-1.8M163.50,24.5v1.8M37.5,157.50h1.8M163.5,157.50h-1.8M37.5,147.49h1M163.5,147.49h-1M37.5,141.64h1M163.5,141.64h-1M37.5,137.48h1M163.5,137.48h-1M37.5,134.26h1M163.5,134.26h-1M37.5,131.63h1M163.5,131.63h-1M37.5,129.40h1M163.5,129.40h-1M37.5,127.47h1M163.5,127.47h-1M37.5,125.77h1M163.5,125.77h-1M37.5,124.25h1.8M163.5,124.25h-1.8M37.5,114.24h1M163.5,114.24h-1M37.5,108.39h1M163.5,108.39h-1M37.5,104.23h1M163.5,104.23h-1M37.5,101.01h1M163.5,101.01h-1M37.5,98.38h1M163.5,98.38h-1M37.5,96.15h1M163.5,96.15h-1M37.5,94.22h1M163.5,94.22h-1M37.5,92.52h1M163.5,92.52h-1M37.5,91.00h1.8M163.5,91.00h-1.8M37.5,80.99h1M163.5,80.99h-1M37.5,75.14h1M163.5,75.14h-1M37.5,70.98h1M163.5,70.98h-1M37.5,67.76h1M163.5,67.76h-1M37.5,65.13h1M163.5,65.13h-1M37.5,62.90h1M163.5,62.90h-1M37.5,60.97h1M163.5,60.97h-1M37.5,59.27h1M163.5,59.27h-1M37.5,57.75h1.8M163.5,57.75h-1.8M37.5,47.74h1M163.5,47.74h-1M37.5,41.89h1M163.5,41.89h-1M37.5,37.73h1M163.5,37.73h-1M37.5,34.51h1M163.5,34.51h-1M37.5,31.88h1M163.5,31.88h-1M37.5,29.65h1M163.5,29.65h-1M37.5,27.72h1M163.5,27.72h-1M37.5,26.02h1M163.5,26.02h-1M37.5,24.50h1.8M163.5,24.50h-1.8" stroke="#444" stroke-width="0.8" fill="none"/>
<rect x="37.5" y="24.5" width="126.0" height="133.0" fill="none" stroke="#6a6a6a" stroke-width="1.25"/>
<text x="33.60" y="162.00" font-family="Liberation Sans, sans-serif" font-size="9" text-anchor="end" fill="#1a1a1a" stroke="#1a1a1a" stroke-width="0.1">10<tspan font-size="6.6" dy="-4.3">1</tspan></text>
<text x="33.60" y="128.75" font-family="Liberation Sans, sans-serif" font-size="9" text-anchor="end" fill="#1a1a1a" stroke="#1a1a1a" stroke-width="0.1">10<tspan font-size="6.6" dy="-4.3">2</tspan></text>
<text x="33.60" y="95.50" font-family="Liberation Sans, sans-serif" font-size="9" text-anchor="end" fill="#1a1a1a" stroke="#1a1a1a" stroke-width="0.1">10<tspan font-size="6.6" dy="-4.3">3</tspan></text>
<text x="33.60" y="62.25" font-family="Liberation Sans, sans-serif" font-size="9" text-anchor="end" fill="#1a1a1a" stroke="#1a1a1a" stroke-width="0.1">10<tspan font-size="6.6" dy="-4.3">4</tspan></text>
<text x="33.60" y="29.00" font-family="Liberation Sans, sans-serif" font-size="9" text-anchor="end" fill="#1a1a1a" stroke="#1a1a1a" stroke-width="0.1">10<tspan font-size="6.6" dy="-4.3">5</tspan></text>
<path d="M224.50,157.5v-1.8M224.50,24.5v1.8M230.82,157.5v-1M230.82,24.5v1M234.52,157.5v-1M234.52,24.5v1M237.14,157.5v-1M237.14,24.5v1M239.18,157.5v-1M239.18,24.5v1M240.84,157.5v-1M240.84,24.5v1M242.25,157.5v-1M242.25,24.5v1M243.46,157.5v-1M243.46,24.5v1M244.54,157.5v-1M244.54,24.5v1M245.50,157.5v-1.8M245.50,24.5v1.8M251.82,157.5v-1M251.82,24.5v1M255.52,157.5v-1M255.52,24.5v1M258.14,157.5v-1M258.14,24.5v1M260.18,157.5v-1M260.18,24.5v1M261.84,157.5v-1M261.84,24.5v1M263.25,157.5v-1M263.25,24.5v1M264.46,157.5v-1M264.46,24.5v1M265.54,157.5v-1M265.54,24.5v1M266.50,157.5v-1.8M266.50,24.5v1.8M272.82,157.5v-1M272.82,24.5v1M276.52,157.5v-1M276.52,24.5v1M279.14,157.5v-1M279.14,24.5v1M281.18,157.5v-1M281.18,24.5v1M282.84,157.5v-1M282.84,24.5v1M284.25,157.5v-1M284.25,24.5v1M285.46,157.5v-1M285.46,24.5v1M286.54,157.5v-1M286.54,24.5v1M287.50,157.5v-1.8M287.50,24.5v1.8M293.82,157.5v-1M293.82,24.5v1M297.52,157.5v-1M297.52,24.5v1M300.14,157.5v-1M300.14,24.5v1M302.18,157.5v-1M302.18,24.5v1M303.84,157.5v-1M303.84,24.5v1M305.25,157.5v-1M305.25,24.5v1M306.46,157.5v-1M306.46,24.5v1M307.54,157.5v-1M307.54,24.5v1M308.50,157.5v-1.8M308.50,24.5v1.8M314.82,157.5v-1M314.82,24.5v1M318.52,157.5v-1M318.52,24.5v1M321.14,157.5v-1M321.14,24.5v1M323.18,157.5v-1M323.18,24.5v1M324.84,157.5v-1M324.84,24.5v1M326.25,157.5v-1M326.25,24.5v1M327.46,157.5v-1M327.46,24.5v1M328.54,157.5v-1M328.54,24.5v1M329.50,157.5v-1.8M329.50,24.5v1.8M335.82,157.5v-1M335.82,24.5v1M339.52,157.5v-1M339.52,24.5v1M342.14,157.5v-1M342.14,24.5v1M344.18,157.5v-1M344.18,24.5v1M345.84,157.5v-1M345.84,24.5v1M347.25,157.5v-1M347.25,24.5v1M348.46,157.5v-1M348.46,24.5v1M349.54,157.5v-1M349.54,24.5v1M350.50,157.5v-1.8M350.50,24.5v1.8M224.5,157.50h1.8M350.5,157.50h-1.8M224.5,147.49h1M350.5,147.49h-1M224.5,141.64h1M350.5,141.64h-1M224.5,137.48h1M350.5,137.48h-1M224.5,134.26h1M350.5,134.26h-1M224.5,131.63h1M350.5,131.63h-1M224.5,129.40h1M350.5,129.40h-1M224.5,127.47h1M350.5,127.47h-1M224.5,125.77h1M350.5,125.77h-1M224.5,124.25h1.8M350.5,124.25h-1.8M224.5,114.24h1M350.5,114.24h-1M224.5,108.39h1M350.5,108.39h-1M224.5,104.23h1M350.5,104.23h-1M224.5,101.01h1M350.5,101.01h-1M224.5,98.38h1M350.5,98.38h-1M224.5,96.15h1M350.5,96.15h-1M224.5,94.22h1M350.5,94.22h-1M224.5,92.52h1M350.5,92.52h-1M224.5,91.00h1.8M350.5,91.00h-1.8M224.5,80.99h1M350.5,80.99h-1M224.5,75.14h1M350.5,75.14h-1M224.5,70.98h1M350.5,70.98h-1M224.5,67.76h1M350.5,67.76h-1M224.5,65.13h1M350.5,65.13h-1M224.5,62.90h1M350.5,62.90h-1M224.5,60.97h1M350.5,60.97h-1M224.5,59.27h1M350.5,59.27h-1M224.5,57.75h1.8M350.5,57.75h-1.8M224.5,47.74h1M350.5,47.74h-1M224.5,41.89h1M350.5,41.89h-1M224.5,37.73h1M350.5,37.73h-1M224.5,34.51h1M350.5,34.51h-1M224.5,31.88h1M350.5,31.88h-1M224.5,29.65h1M350.5,29.65h-1M224.5,27.72h1M350.5,27.72h-1M224.5,26.02h1M350.5,26.02h-1M224.5,24.50h1.8M350.5,24.50h-1.8" stroke="#444" stroke-width="0.8" fill="none"/>
<rect x="224.5" y="24.5" width="126.0" height="133.0" fill="none" stroke="#6a6a6a" stroke-width="1.25"/>
<text x="222.30" y="162.60" font-family="Liberation Sans, sans-serif" font-size="9" text-anchor="end" fill="#1a1a1a" stroke="#1a1a1a" stroke-width="0.1">10<tspan font-size="6.6" dy="-4.3">−1</tspan></text>
<text x="221.10" y="129.35" font-family="Liberation Sans, sans-serif" font-size="9" text-anchor="end" fill="#1a1a1a" stroke="#1a1a1a" stroke-width="0.1">10<tspan font-size="6.6" dy="-4.3">0</tspan></text>
<text x="221.10" y="96.10" font-family="Liberation Sans, sans-serif" font-size="9" text-anchor="end" fill="#1a1a1a" stroke="#1a1a1a" stroke-width="0.1">10<tspan font-size="6.6" dy="-4.3">1</tspan></text>
<text x="221.10" y="62.85" font-family="Liberation Sans, sans-serif" font-size="9" text-anchor="end" fill="#1a1a1a" stroke="#1a1a1a" stroke-width="0.1">10<tspan font-size="6.6" dy="-4.3">2</tspan></text>
<text x="221.10" y="29.60" font-family="Liberation Sans, sans-serif" font-size="9" text-anchor="end" fill="#1a1a1a" stroke="#1a1a1a" stroke-width="0.1">10<tspan font-size="6.6" dy="-4.3">3</tspan></text>
<path d="M415.50,157.5v-1.8M415.50,24.5v1.8M421.82,157.5v-1M421.82,24.5v1M425.52,157.5v-1M425.52,24.5v1M428.14,157.5v-1M428.14,24.5v1M430.18,157.5v-1M430.18,24.5v1M431.84,157.5v-1M431.84,24.5v1M433.25,157.5v-1M433.25,24.5v1M434.46,157.5v-1M434.46,24.5v1M435.54,157.5v-1M435.54,24.5v1M436.50,157.5v-1.8M436.50,24.5v1.8M442.82,157.5v-1M442.82,24.5v1M446.52,157.5v-1M446.52,24.5v1M449.14,157.5v-1M449.14,24.5v1M451.18,157.5v-1M451.18,24.5v1M452.84,157.5v-1M452.84,24.5v1M454.25,157.5v-1M454.25,24.5v1M455.46,157.5v-1M455.46,24.5v1M456.54,157.5v-1M456.54,24.5v1M457.50,157.5v-1.8M457.50,24.5v1.8M463.82,157.5v-1M463.82,24.5v1M467.52,157.5v-1M467.52,24.5v1M470.14,157.5v-1M470.14,24.5v1M472.18,157.5v-1M472.18,24.5v1M473.84,157.5v-1M473.84,24.5v1M475.25,157.5v-1M475.25,24.5v1M476.46,157.5v-1M476.46,24.5v1M477.54,157.5v-1M477.54,24.5v1M478.50,157.5v-1.8M478.50,24.5v1.8M484.82,157.5v-1M484.82,24.5v1M488.52,157.5v-1M488.52,24.5v1M491.14,157.5v-1M491.14,24.5v1M493.18,157.5v-1M493.18,24.5v1M494.84,157.5v-1M494.84,24.5v1M496.25,157.5v-1M496.25,24.5v1M497.46,157.5v-1M497.46,24.5v1M498.54,157.5v-1M498.54,24.5v1M499.50,157.5v-1.8M499.50,24.5v1.8M505.82,157.5v-1M505.82,24.5v1M509.52,157.5v-1M509.52,24.5v1M512.14,157.5v-1M512.14,24.5v1M514.18,157.5v-1M514.18,24.5v1M515.84,157.5v-1M515.84,24.5v1M517.25,157.5v-1M517.25,24.5v1M518.46,157.5v-1M518.46,24.5v1M519.54,157.5v-1M519.54,24.5v1M520.50,157.5v-1.8M520.50,24.5v1.8M526.82,157.5v-1M526.82,24.5v1M530.52,157.5v-1M530.52,24.5v1M533.14,157.5v-1M533.14,24.5v1M535.18,157.5v-1M535.18,24.5v1M536.84,157.5v-1M536.84,24.5v1M538.25,157.5v-1M538.25,24.5v1M539.46,157.5v-1M539.46,24.5v1M540.54,157.5v-1M540.54,24.5v1M541.50,157.5v-1.8M541.50,24.5v1.8M415.5,157.50h1.8M541.5,157.50h-1.8M415.5,147.49h1M541.5,147.49h-1M415.5,141.64h1M541.5,141.64h-1M415.5,137.48h1M541.5,137.48h-1M415.5,134.26h1M541.5,134.26h-1M415.5,131.63h1M541.5,131.63h-1M415.5,129.40h1M541.5,129.40h-1M415.5,127.47h1M541.5,127.47h-1M415.5,125.77h1M541.5,125.77h-1M415.5,124.25h1.8M541.5,124.25h-1.8M415.5,114.24h1M541.5,114.24h-1M415.5,108.39h1M541.5,108.39h-1M415.5,104.23h1M541.5,104.23h-1M415.5,101.01h1M541.5,101.01h-1M415.5,98.38h1M541.5,98.38h-1M415.5,96.15h1M541.5,96.15h-1M415.5,94.22h1M541.5,94.22h-1M415.5,92.52h1M541.5,92.52h-1M415.5,91.00h1.8M541.5,91.00h-1.8M415.5,80.99h1M541.5,80.99h-1M415.5,75.14h1M541.5,75.14h-1M415.5,70.98h1M541.5,70.98h-1M415.5,67.76h1M541.5,67.76h-1M415.5,65.13h1M541.5,65.13h-1M415.5,62.90h1M541.5,62.90h-1M415.5,60.97h1M541.5,60.97h-1M415.5,59.27h1M541.5,59.27h-1M415.5,57.75h1.8M541.5,57.75h-1.8M415.5,47.74h1M541.5,47.74h-1M415.5,41.89h1M541.5,41.89h-1M415.5,37.73h1M541.5,37.73h-1M415.5,34.51h1M541.5,34.51h-1M415.5,31.88h1M541.5,31.88h-1M415.5,29.65h1M541.5,29.65h-1M415.5,27.72h1M541.5,27.72h-1M415.5,26.02h1M541.5,26.02h-1M415.5,24.50h1.8M541.5,24.50h-1.8" stroke="#444" stroke-width="0.8" fill="none"/>
<rect x="415.5" y="24.5" width="126.0" height="133.0" fill="none" stroke="#6a6a6a" stroke-width="1.25"/>
<text x="412.00" y="162.60" font-family="Liberation Sans, sans-serif" font-size="9" text-anchor="end" fill="#1a1a1a" stroke="#1a1a1a" stroke-width="0.1">10<tspan font-size="6.6" dy="-4.3">0</tspan></text>
<text x="412.00" y="129.35" font-family="Liberation Sans, sans-serif" font-size="9" text-anchor="end" fill="#1a1a1a" stroke="#1a1a1a" stroke-width="0.1">10<tspan font-size="6.6" dy="-4.3">1</tspan></text>
<text x="412.00" y="96.10" font-family="Liberation Sans, sans-serif" font-size="9" text-anchor="end" fill="#1a1a1a" stroke="#1a1a1a" stroke-width="0.1">10<tspan font-size="6.6" dy="-4.3">2</tspan></text>
<text x="412.00" y="62.85" font-family="Liberation Sans, sans-serif" font-size="9" text-anchor="end" fill="#1a1a1a" stroke="#1a1a1a" stroke-width="0.1">10<tspan font-size="6.6" dy="-4.3">3</tspan></text>
<text x="412.00" y="29.60" font-family="Liberation Sans, sans-serif" font-size="9" text-anchor="end" fill="#1a1a1a" stroke="#1a1a1a" stroke-width="0.1">10<tspan font-size="6.6" dy="-4.3">4</tspan></text>
<path d="M37.50,255.5v-1.8M37.50,171.5v1.8M43.82,255.5v-1M43.82,171.5v1M47.52,255.5v-1M47.52,171.5v1M50.14,255.5v-1M50.14,171.5v1M52.18,255.5v-1M52.18,171.5v1M53.84,255.5v-1M53.84,171.5v1M55.25,255.5v-1M55.25,171.5v1M56.46,255.5v-1M56.46,171.5v1M57.54,255.5v-1M57.54,171.5v1M58.50,255.5v-1.8M58.50,171.5v1.8M64.82,255.5v-1M64.82,171.5v1M68.52,255.5v-1M68.52,171.5v1M71.14,255.5v-1M71.14,171.5v1M73.18,255.5v-1M73.18,171.5v1M74.84,255.5v-1M74.84,171.5v1M76.25,255.5v-1M76.25,171.5v1M77.46,255.5v-1M77.46,171.5v1M78.54,255.5v-1M78.54,171.5v1M79.50,255.5v-1.8M79.50,171.5v1.8M85.82,255.5v-1M85.82,171.5v1M89.52,255.5v-1M89.52,171.5v1M92.14,255.5v-1M92.14,171.5v1M94.18,255.5v-1M94.18,171.5v1M95.84,255.5v-1M95.84,171.5v1M97.25,255.5v-1M97.25,171.5v1M98.46,255.5v-1M98.46,171.5v1M99.54,255.5v-1M99.54,171.5v1M100.50,255.5v-1.8M100.50,171.5v1.8M106.82,255.5v-1M106.82,171.5v1M110.52,255.5v-1M110.52,171.5v1M113.14,255.5v-1M113.14,171.5v1M115.18,255.5v-1M115.18,171.5v1M116.84,255.5v-1M116.84,171.5v1M118.25,255.5v-1M118.25,171.5v1M119.46,255.5v-1M119.46,171.5v1M120.54,255.5v-1M120.54,171.5v1M121.50,255.5v-1.8M121.50,171.5v1.8M127.82,255.5v-1M127.82,171.5v1M131.52,255.5v-1M131.52,171.5v1M134.14,255.5v-1M134.14,171.5v1M136.18,255.5v-1M136.18,171.5v1M137.84,255.5v-1M137.84,171.5v1M139.25,255.5v-1M139.25,171.5v1M140.46,255.5v-1M140.46,171.5v1M141.54,255.5v-1M141.54,171.5v1M142.50,255.5v-1.8M142.50,171.5v1.8M148.82,255.5v-1M148.82,171.5v1M152.52,255.5v-1M152.52,171.5v1M155.14,255.5v-1M155.14,171.5v1M157.18,255.5v-1M157.18,171.5v1M158.84,255.5v-1M158.84,171.5v1M160.25,255.5v-1M160.25,171.5v1M161.46,255.5v-1M161.46,171.5v1M162.54,255.5v-1M162.54,171.5v1M163.50,255.5v-1.8M163.50,171.5v1.8M37.5,253.30h1.8M163.5,253.30h-1.8M37.5,233.35h1.8M163.5,233.35h-1.8M37.5,213.40h1.8M163.5,213.40h-1.8M37.5,193.45h1.8M163.5,193.45h-1.8M37.5,173.50h1.8M163.5,173.50h-1.8" stroke="#444" stroke-width="0.8" fill="none"/>
<rect x="37.5" y="171.5" width="126.0" height="84.0" fill="none" stroke="#6a6a6a" stroke-width="1.25"/>
<text x="32.5" y="257.10" font-family="Liberation Sans, sans-serif" font-size="9" text-anchor="end" fill="#1a1a1a" stroke="#1a1a1a" stroke-width="0.1">−180</text>
<text x="32.5" y="237.15" font-family="Liberation Sans, sans-serif" font-size="9" text-anchor="end" fill="#1a1a1a" stroke="#1a1a1a" stroke-width="0.1">−90</text>
<text x="32.5" y="217.20" font-family="Liberation Sans, sans-serif" font-size="9" text-anchor="end" fill="#1a1a1a" stroke="#1a1a1a" stroke-width="0.1">0</text>
<text x="32.5" y="197.25" font-family="Liberation Sans, sans-serif" font-size="9" text-anchor="end" fill="#1a1a1a" stroke="#1a1a1a" stroke-width="0.1">90</text>
<text x="32.5" y="177.30" font-family="Liberation Sans, sans-serif" font-size="9" text-anchor="end" fill="#1a1a1a" stroke="#1a1a1a" stroke-width="0.1">180</text>
<text x="38.10" y="271.2" font-family="Liberation Sans, sans-serif" font-size="9" text-anchor="middle" fill="#1a1a1a" stroke="#1a1a1a" stroke-width="0.1">10<tspan font-size="6.6" dy="-4">−3</tspan></text>
<text x="59.10" y="271.2" font-family="Liberation Sans, sans-serif" font-size="9" text-anchor="middle" fill="#1a1a1a" stroke="#1a1a1a" stroke-width="0.1">10<tspan font-size="6.6" dy="-4">−2</tspan></text>
<text x="80.10" y="271.2" font-family="Liberation Sans, sans-serif" font-size="9" text-anchor="middle" fill="#1a1a1a" stroke="#1a1a1a" stroke-width="0.1">10<tspan font-size="6.6" dy="-4">−1</tspan></text>
<text x="101.10" y="271.2" font-family="Liberation Sans, sans-serif" font-size="9" text-anchor="middle" fill="#1a1a1a" stroke="#1a1a1a" stroke-width="0.1">10<tspan font-size="6.6" dy="-4">0</tspan></text>
<text x="122.10" y="271.2" font-family="Liberation Sans, sans-serif" font-size="9" text-anchor="middle" fill="#1a1a1a" stroke="#1a1a1a" stroke-width="0.1">10<tspan font-size="6.6" dy="-4">1</tspan></text>
<text x="143.10" y="271.2" font-family="Liberation Sans, sans-serif" font-size="9" text-anchor="middle" fill="#1a1a1a" stroke="#1a1a1a" stroke-width="0.1">10<tspan font-size="6.6" dy="-4">2</tspan></text>
<text x="164.10" y="271.2" font-family="Liberation Sans, sans-serif" font-size="9" text-anchor="middle" fill="#1a1a1a" stroke="#1a1a1a" stroke-width="0.1">10<tspan font-size="6.6" dy="-4">3</tspan></text>
<text x="102.80" y="284.5" font-family="Liberation Sans, sans-serif" font-size="9.8" text-anchor="middle" fill="#1a1a1a" stroke="#1a1a1a" stroke-width="0.1">Periods (s)</text>
<path d="M224.50,255.5v-1.8M224.50,171.5v1.8M230.82,255.5v-1M230.82,171.5v1M234.52,255.5v-1M234.52,171.5v1M237.14,255.5v-1M237.14,171.5v1M239.18,255.5v-1M239.18,171.5v1M240.84,255.5v-1M240.84,171.5v1M242.25,255.5v-1M242.25,171.5v1M243.46,255.5v-1M243.46,171.5v1M244.54,255.5v-1M244.54,171.5v1M245.50,255.5v-1.8M245.50,171.5v1.8M251.82,255.5v-1M251.82,171.5v1M255.52,255.5v-1M255.52,171.5v1M258.14,255.5v-1M258.14,171.5v1M260.18,255.5v-1M260.18,171.5v1M261.84,255.5v-1M261.84,171.5v1M263.25,255.5v-1M263.25,171.5v1M264.46,255.5v-1M264.46,171.5v1M265.54,255.5v-1M265.54,171.5v1M266.50,255.5v-1.8M266.50,171.5v1.8M272.82,255.5v-1M272.82,171.5v1M276.52,255.5v-1M276.52,171.5v1M279.14,255.5v-1M279.14,171.5v1M281.18,255.5v-1M281.18,171.5v1M282.84,255.5v-1M282.84,171.5v1M284.25,255.5v-1M284.25,171.5v1M285.46,255.5v-1M285.46,171.5v1M286.54,255.5v-1M286.54,171.5v1M287.50,255.5v-1.8M287.50,171.5v1.8M293.82,255.5v-1M293.82,171.5v1M297.52,255.5v-1M297.52,171.5v1M300.14,255.5v-1M300.14,171.5v1M302.18,255.5v-1M302.18,171.5v1M303.84,255.5v-1M303.84,171.5v1M305.25,255.5v-1M305.25,171.5v1M306.46,255.5v-1M306.46,171.5v1M307.54,255.5v-1M307.54,171.5v1M308.50,255.5v-1.8M308.50,171.5v1.8M314.82,255.5v-1M314.82,171.5v1M318.52,255.5v-1M318.52,171.5v1M321.14,255.5v-1M321.14,171.5v1M323.18,255.5v-1M323.18,171.5v1M324.84,255.5v-1M324.84,171.5v1M326.25,255.5v-1M326.25,171.5v1M327.46,255.5v-1M327.46,171.5v1M328.54,255.5v-1M328.54,171.5v1M329.50,255.5v-1.8M329.50,171.5v1.8M335.82,255.5v-1M335.82,171.5v1M339.52,255.5v-1M339.52,171.5v1M342.14,255.5v-1M342.14,171.5v1M344.18,255.5v-1M344.18,171.5v1M345.84,255.5v-1M345.84,171.5v1M347.25,255.5v-1M347.25,171.5v1M348.46,255.5v-1M348.46,171.5v1M349.54,255.5v-1M349.54,171.5v1M350.50,255.5v-1.8M350.50,171.5v1.8M224.5,253.30h1.8M350.5,253.30h-1.8M224.5,233.35h1.8M350.5,233.35h-1.8M224.5,213.40h1.8M350.5,213.40h-1.8M224.5,193.45h1.8M350.5,193.45h-1.8M224.5,173.50h1.8M350.5,173.50h-1.8" stroke="#444" stroke-width="0.8" fill="none"/>
<rect x="224.5" y="171.5" width="126.0" height="84.0" fill="none" stroke="#6a6a6a" stroke-width="1.25"/>
<text x="219.5" y="257.10" font-family="Liberation Sans, sans-serif" font-size="9" text-anchor="end" fill="#1a1a1a" stroke="#1a1a1a" stroke-width="0.1">−180</text>
<text x="219.5" y="237.15" font-family="Liberation Sans, sans-serif" font-size="9" text-anchor="end" fill="#1a1a1a" stroke="#1a1a1a" stroke-width="0.1">−90</text>
<text x="219.5" y="217.20" font-family="Liberation Sans, sans-serif" font-size="9" text-anchor="end" fill="#1a1a1a" stroke="#1a1a1a" stroke-width="0.1">0</text>
<text x="219.5" y="197.25" font-family="Liberation Sans, sans-serif" font-size="9" text-anchor="end" fill="#1a1a1a" stroke="#1a1a1a" stroke-width="0.1">90</text>
<text x="219.5" y="177.30" font-family="Liberation Sans, sans-serif" font-size="9" text-anchor="end" fill="#1a1a1a" stroke="#1a1a1a" stroke-width="0.1">180</text>
<text x="225.10" y="271.2" font-family="Liberation Sans, sans-serif" font-size="9" text-anchor="middle" fill="#1a1a1a" stroke="#1a1a1a" stroke-width="0.1">10<tspan font-size="6.6" dy="-4">−3</tspan></text>
<text x="246.10" y="271.2" font-family="Liberation Sans, sans-serif" font-size="9" text-anchor="middle" fill="#1a1a1a" stroke="#1a1a1a" stroke-width="0.1">10<tspan font-size="6.6" dy="-4">−2</tspan></text>
<text x="267.10" y="271.2" font-family="Liberation Sans, sans-serif" font-size="9" text-anchor="middle" fill="#1a1a1a" stroke="#1a1a1a" stroke-width="0.1">10<tspan font-size="6.6" dy="-4">−1</tspan></text>
<text x="288.10" y="271.2" font-family="Liberation Sans, sans-serif" font-size="9" text-anchor="middle" fill="#1a1a1a" stroke="#1a1a1a" stroke-width="0.1">10<tspan font-size="6.6" dy="-4">0</tspan></text>
<text x="309.10" y="271.2" font-family="Liberation Sans, sans-serif" font-size="9" text-anchor="middle" fill="#1a1a1a" stroke="#1a1a1a" stroke-width="0.1">10<tspan font-size="6.6" dy="-4">1</tspan></text>
<text x="330.10" y="271.2" font-family="Liberation Sans, sans-serif" font-size="9" text-anchor="middle" fill="#1a1a1a" stroke="#1a1a1a" stroke-width="0.1">10<tspan font-size="6.6" dy="-4">2</tspan></text>
<text x="351.10" y="271.2" font-family="Liberation Sans, sans-serif" font-size="9" text-anchor="middle" fill="#1a1a1a" stroke="#1a1a1a" stroke-width="0.1">10<tspan font-size="6.6" dy="-4">3</tspan></text>
<text x="289.80" y="284.5" font-family="Liberation Sans, sans-serif" font-size="9.8" text-anchor="middle" fill="#1a1a1a" stroke="#1a1a1a" stroke-width="0.1">Periods (s)</text>
<path d="M415.50,255.5v-1.8M415.50,171.5v1.8M421.82,255.5v-1M421.82,171.5v1M425.52,255.5v-1M425.52,171.5v1M428.14,255.5v-1M428.14,171.5v1M430.18,255.5v-1M430.18,171.5v1M431.84,255.5v-1M431.84,171.5v1M433.25,255.5v-1M433.25,171.5v1M434.46,255.5v-1M434.46,171.5v1M435.54,255.5v-1M435.54,171.5v1M436.50,255.5v-1.8M436.50,171.5v1.8M442.82,255.5v-1M442.82,171.5v1M446.52,255.5v-1M446.52,171.5v1M449.14,255.5v-1M449.14,171.5v1M451.18,255.5v-1M451.18,171.5v1M452.84,255.5v-1M452.84,171.5v1M454.25,255.5v-1M454.25,171.5v1M455.46,255.5v-1M455.46,171.5v1M456.54,255.5v-1M456.54,171.5v1M457.50,255.5v-1.8M457.50,171.5v1.8M463.82,255.5v-1M463.82,171.5v1M467.52,255.5v-1M467.52,171.5v1M470.14,255.5v-1M470.14,171.5v1M472.18,255.5v-1M472.18,171.5v1M473.84,255.5v-1M473.84,171.5v1M475.25,255.5v-1M475.25,171.5v1M476.46,255.5v-1M476.46,171.5v1M477.54,255.5v-1M477.54,171.5v1M478.50,255.5v-1.8M478.50,171.5v1.8M484.82,255.5v-1M484.82,171.5v1M488.52,255.5v-1M488.52,171.5v1M491.14,255.5v-1M491.14,171.5v1M493.18,255.5v-1M493.18,171.5v1M494.84,255.5v-1M494.84,171.5v1M496.25,255.5v-1M496.25,171.5v1M497.46,255.5v-1M497.46,171.5v1M498.54,255.5v-1M498.54,171.5v1M499.50,255.5v-1.8M499.50,171.5v1.8M505.82,255.5v-1M505.82,171.5v1M509.52,255.5v-1M509.52,171.5v1M512.14,255.5v-1M512.14,171.5v1M514.18,255.5v-1M514.18,171.5v1M515.84,255.5v-1M515.84,171.5v1M517.25,255.5v-1M517.25,171.5v1M518.46,255.5v-1M518.46,171.5v1M519.54,255.5v-1M519.54,171.5v1M520.50,255.5v-1.8M520.50,171.5v1.8M526.82,255.5v-1M526.82,171.5v1M530.52,255.5v-1M530.52,171.5v1M533.14,255.5v-1M533.14,171.5v1M535.18,255.5v-1M535.18,171.5v1M536.84,255.5v-1M536.84,171.5v1M538.25,255.5v-1M538.25,171.5v1M539.46,255.5v-1M539.46,171.5v1M540.54,255.5v-1M540.54,171.5v1M541.50,255.5v-1.8M541.50,171.5v1.8M415.5,253.30h1.8M541.5,253.30h-1.8M415.5,233.35h1.8M541.5,233.35h-1.8M415.5,213.40h1.8M541.5,213.40h-1.8M415.5,193.45h1.8M541.5,193.45h-1.8M415.5,173.50h1.8M541.5,173.50h-1.8" stroke="#444" stroke-width="0.8" fill="none"/>
<rect x="415.5" y="171.5" width="126.0" height="84.0" fill="none" stroke="#6a6a6a" stroke-width="1.25"/>
<text x="410.5" y="257.10" font-family="Liberation Sans, sans-serif" font-size="9" text-anchor="end" fill="#1a1a1a" stroke="#1a1a1a" stroke-width="0.1">−180</text>
<text x="410.5" y="237.15" font-family="Liberation Sans, sans-serif" font-size="9" text-anchor="end" fill="#1a1a1a" stroke="#1a1a1a" stroke-width="0.1">−90</text>
<text x="410.5" y="217.20" font-family="Liberation Sans, sans-serif" font-size="9" text-anchor="end" fill="#1a1a1a" stroke="#1a1a1a" stroke-width="0.1">0</text>
<text x="410.5" y="197.25" font-family="Liberation Sans, sans-serif" font-size="9" text-anchor="end" fill="#1a1a1a" stroke="#1a1a1a" stroke-width="0.1">90</text>
<text x="410.5" y="177.30" font-family="Liberation Sans, sans-serif" font-size="9" text-anchor="end" fill="#1a1a1a" stroke="#1a1a1a" stroke-width="0.1">180</text>
<text x="416.10" y="271.2" font-family="Liberation Sans, sans-serif" font-size="9" text-anchor="middle" fill="#1a1a1a" stroke="#1a1a1a" stroke-width="0.1">10<tspan font-size="6.6" dy="-4">−3</tspan></text>
<text x="437.10" y="271.2" font-family="Liberation Sans, sans-serif" font-size="9" text-anchor="middle" fill="#1a1a1a" stroke="#1a1a1a" stroke-width="0.1">10<tspan font-size="6.6" dy="-4">−2</tspan></text>
<text x="458.10" y="271.2" font-family="Liberation Sans, sans-serif" font-size="9" text-anchor="middle" fill="#1a1a1a" stroke="#1a1a1a" stroke-width="0.1">10<tspan font-size="6.6" dy="-4">−1</tspan></text>
<text x="479.10" y="271.2" font-family="Liberation Sans, sans-serif" font-size="9" text-anchor="middle" fill="#1a1a1a" stroke="#1a1a1a" stroke-width="0.1">10<tspan font-size="6.6" dy="-4">0</tspan></text>
<text x="500.10" y="271.2" font-family="Liberation Sans, sans-serif" font-size="9" text-anchor="middle" fill="#1a1a1a" stroke="#1a1a1a" stroke-width="0.1">10<tspan font-size="6.6" dy="-4">1</tspan></text>
<text x="521.10" y="271.2" font-family="Liberation Sans, sans-serif" font-size="9" text-anchor="middle" fill="#1a1a1a" stroke="#1a1a1a" stroke-width="0.1">10<tspan font-size="6.6" dy="-4">2</tspan></text>
<text x="542.10" y="271.2" font-family="Liberation Sans, sans-serif" font-size="9" text-anchor="middle" fill="#1a1a1a" stroke="#1a1a1a" stroke-width="0.1">10<tspan font-size="6.6" dy="-4">3</tspan></text>
<text x="480.80" y="284.5" font-family="Liberation Sans, sans-serif" font-size="9.8" text-anchor="middle" fill="#1a1a1a" stroke="#1a1a1a" stroke-width="0.1">Periods (s)</text>
<text x="58.4" y="20.4" font-family="Liberation Sans, sans-serif" font-size="10.8" fill="#1a1a1a" stroke="#1a1a1a" stroke-width="0.1">Site: TGA−07−712</text>
<text x="287.6" y="21.1" font-family="Liberation Sans, sans-serif" font-size="11" text-anchor="middle" fill="#1a1a1a" stroke="#1a1a1a" stroke-width="0.1">Site: T240a</text>
<text x="478.3" y="21.1" font-family="Liberation Sans, sans-serif" font-size="11" text-anchor="middle" fill="#1a1a1a" stroke="#1a1a1a" stroke-width="0.1">Site: Tol23</text>
<text transform="translate(12.30,92.9) rotate(-90)" font-family="Liberation Sans, sans-serif" font-size="10" text-anchor="middle" fill="#1a1a1a" stroke="#1a1a1a" stroke-width="0.1"><tspan font-style="italic">ρ</tspan><tspan font-size="7" dy="2.2">a</tspan><tspan dy="-2.2"> (Ω m)</tspan></text>
<text transform="translate(9.45,214.3) rotate(-90)" font-family="Liberation Sans, sans-serif" font-size="10" text-anchor="middle" fill="#1a1a1a" stroke="#1a1a1a" stroke-width="0.1"><tspan font-style="italic">φ</tspan> (°)</text>
<text transform="translate(197.55,92.9) rotate(-90)" font-family="Liberation Sans, sans-serif" font-size="10" text-anchor="middle" fill="#1a1a1a" stroke="#1a1a1a" stroke-width="0.1"><tspan font-style="italic">ρ</tspan><tspan font-size="7" dy="2.2">a</tspan><tspan dy="-2.2"> (Ω m)</tspan></text>
<text transform="translate(197.60,214.3) rotate(-90)" font-family="Liberation Sans, sans-serif" font-size="10" text-anchor="middle" fill="#1a1a1a" stroke="#1a1a1a" stroke-width="0.1"><tspan font-style="italic">φ</tspan> (°)</text>
<text transform="translate(390.20,92.9) rotate(-90)" font-family="Liberation Sans, sans-serif" font-size="10" text-anchor="middle" fill="#1a1a1a" stroke="#1a1a1a" stroke-width="0.1"><tspan font-style="italic">ρ</tspan><tspan font-size="7" dy="2.2">a</tspan><tspan dy="-2.2"> (Ω m)</tspan></text>
<text transform="translate(387.95,214.3) rotate(-90)" font-family="Liberation Sans, sans-serif" font-size="10" text-anchor="middle" fill="#1a1a1a" stroke="#1a1a1a" stroke-width="0.1"><tspan font-style="italic">φ</tspan> (°)</text>
<circle cx="9.5" cy="8.6" r="5.2" fill="none" stroke="#222" stroke-width="1.2"/>
<text x="9.5" y="11.30" font-family="Liberation Sans, sans-serif" font-size="10.5" text-anchor="middle" fill="#1a1a1a" stroke="#1a1a1a" stroke-width="0.1">a</text>
<circle cx="194.4" cy="8.9" r="5.2" fill="none" stroke="#222" stroke-width="1.2"/>
<text x="194.4" y="11.60" font-family="Liberation Sans, sans-serif" font-size="10.5" text-anchor="middle" fill="#1a1a1a" stroke="#1a1a1a" stroke-width="0.1">b</text>
<circle cx="387.4" cy="8.4" r="5.2" fill="none" stroke="#222" stroke-width="1.2"/>
<text x="387.4" y="11.10" font-family="Liberation Sans, sans-serif" font-size="10.5" text-anchor="middle" fill="#1a1a1a" stroke="#1a1a1a" stroke-width="0.1">c</text>
<circle cx="179.1" cy="312.5" r="2.8" fill="none" stroke="#333" stroke-width="1"/>
<rect x="177.4" y="319.8" width="4.6" height="4.6" fill="none" stroke="#333" stroke-width="1"/>
<text x="186.2" y="319.8" font-family="Liberation Sans, sans-serif" font-size="9.2" fill="#1a1a1a" stroke="#1a1a1a" stroke-width="0.1">Measured</text>
<line x1="254.5" y1="311.6" x2="276.4" y2="311.6" stroke="#222" stroke-width="1.2"/>
<line x1="255.5" y1="321.3" x2="262.4" y2="321.3" stroke="#222" stroke-width="1.2"/>
<line x1="270" y1="321.3" x2="277" y2="321.3" stroke="#222" stroke-width="1.2"/>
<text x="279.8" y="318.9" font-family="Liberation Sans, sans-serif" font-size="9.4" fill="#1a1a1a" stroke="#1a1a1a" stroke-width="0.1">Predicted</text>
<text x="323.2" y="314.2" font-family="Liberation Sans, sans-serif" font-size="6.6" fill="#1a1a1a" stroke="#1a1a1a" stroke-width="0.1">500</text>
<text x="323.2" y="323.1" font-family="Liberation Sans, sans-serif" font-size="6.6" fill="#1a1a1a" stroke="#1a1a1a" stroke-width="0.1">100</text>
<text x="336.5" y="320.2" font-family="Liberation Sans, sans-serif" font-size="12.5" fill="#1a1a1a" stroke="#1a1a1a" stroke-width="0.1">Ωm</text>
<text x="387" y="315.3" font-family="Liberation Sans, sans-serif" font-size="10" fill="#ff1414" stroke="#ff1414" stroke-width="0.1">Zxy</text>
<text x="387.6" y="326.2" font-family="Liberation Sans, sans-serif" font-size="10" fill="#1414f0" stroke="#1414f0" stroke-width="0.1">Zyx</text>
</svg>
</body></html>
